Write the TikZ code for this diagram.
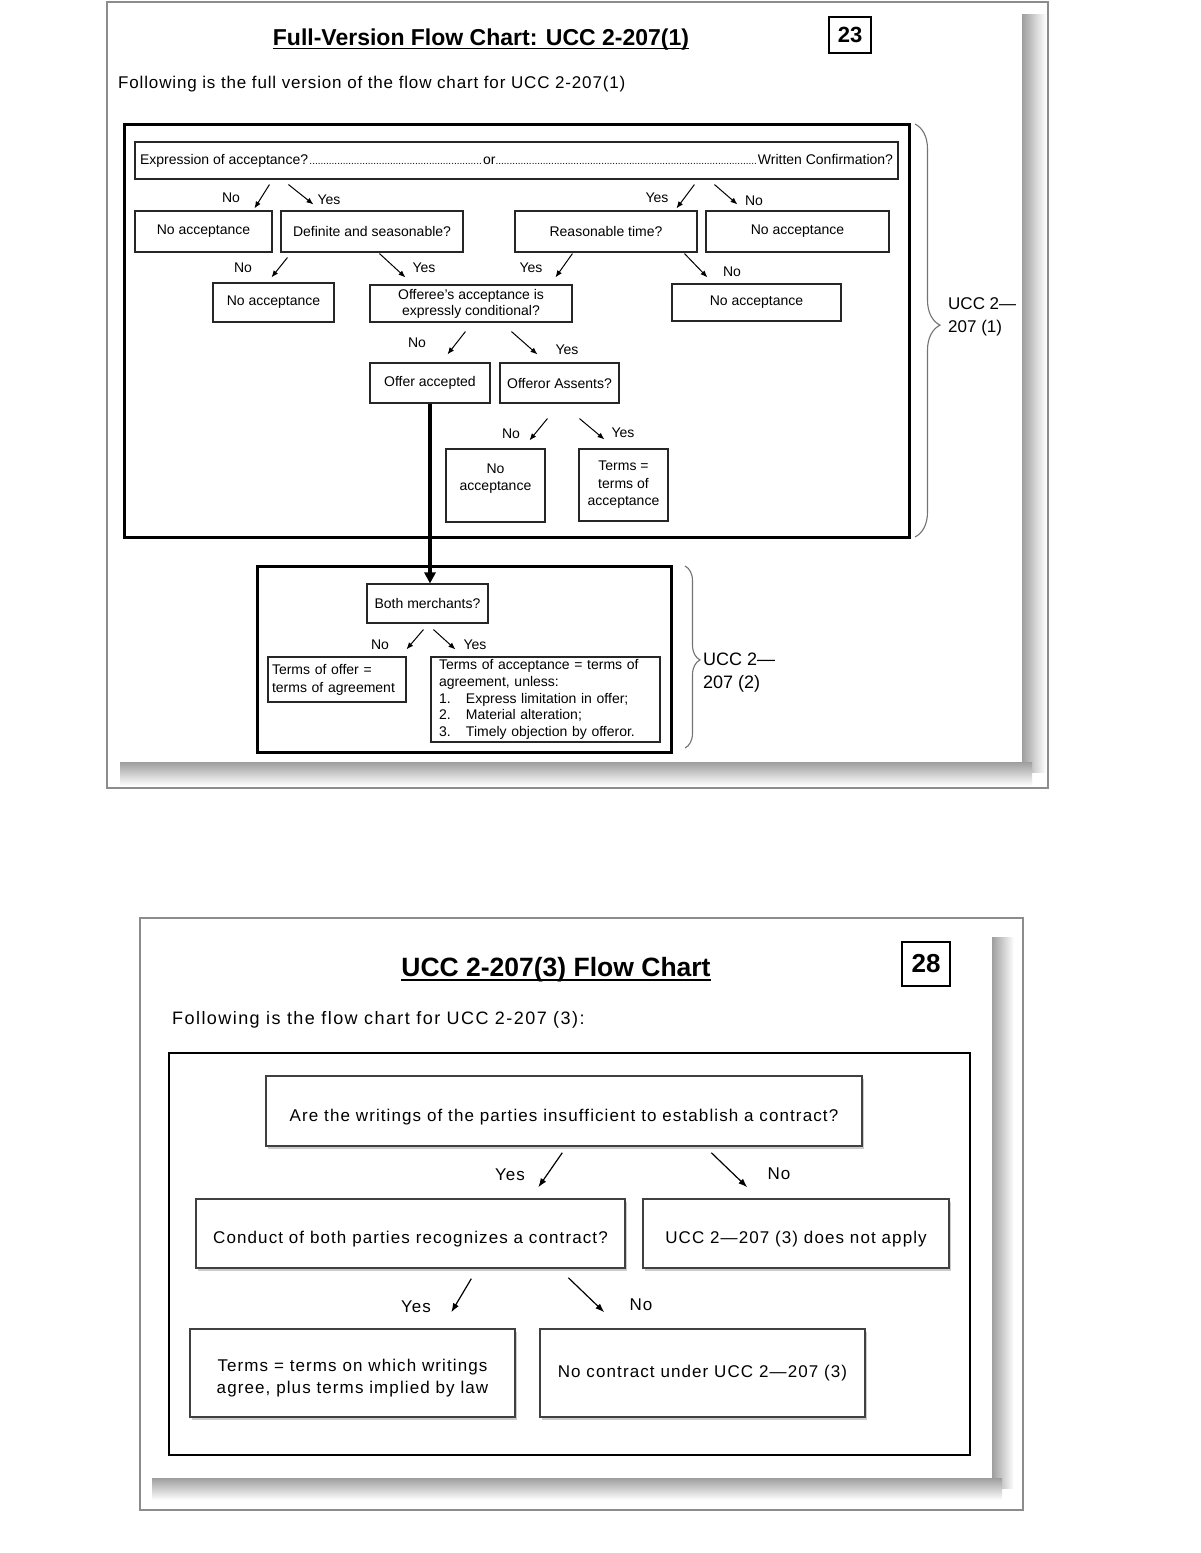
\documentclass[tikz,border=0pt]{standalone}
\usepackage{fontspec}
\setmainfont{Liberation Sans}
\newfontfamily\wideA[LetterSpace=5]{Liberation Sans}
\newfontfamily\wideB[LetterSpace=6.5]{Liberation Sans}
\newfontfamily\wideC[LetterSpace=8]{Liberation Sans}
\usetikzlibrary{arrows.meta,decorations.pathreplacing,shadows}
\newcommand\fsz[2]{\fontsize{#1}{#2}\selectfont}
\begin{document}
\begin{tikzpicture}[x=1pt,y=-1pt,
  box/.style={draw=black!85, line width=1.1pt, inner sep=2pt, align=center, font=\fsz{14}{17}},
  bigframe/.style={draw=black, line width=3pt, inner sep=0pt},
  arr/.style={line width=1pt, -{Latex[length=7pt,width=5.5pt]}},
  lbl/.style={inner sep=0pt, font=\fsz{14}{17}},
  box2/.style={draw=black!75, line width=1.4pt, inner sep=2pt, align=center, font=\wideB\fsz{17}{22}, fill=white,
    drop shadow={shadow xshift=2pt, shadow yshift=-2.5pt, fill=black, opacity=0.2}},
  one/.style={text height=20pt, text depth=0pt},
  arr2/.style={line width=1.2pt, -{Latex[length=9pt,width=6.5pt]}},
  lbl2/.style={inner sep=0pt, font=\wideB\fsz{17}{22}},
  bracestyle/.style={draw=black!55, line width=1.1pt, decorate},
]
\useasboundingbox (0,0) rectangle (1200,1553);
\fill[white] (0,0) rectangle (1200,1553);

% ---------- slide 1 page ----------
\shade[left color=black!38, right color=white] (1022,14) rectangle (1046,772);
\shade[top color=black!38, bottom color=white] (120,762) rectangle (1032,786);
\fill[white] (108,3) rectangle (1022,762);
\draw[black!45, line width=1.3pt] (107,2) rectangle (1048,788);

\node[anchor=base, inner sep=0pt, font=\bfseries\fsz{23}{28}] (t1) at (481,45) {Full-Version Flow Chart: UCC 2-207(1)};
\draw[line width=1.8pt] ([yshift=-3.5pt]t1.base west) -- ([yshift=-3.5pt]t1.base east);
\node[draw=black, line width=1.2pt, minimum width=42pt, minimum height=36pt, inner sep=0pt, font=\bfseries\fsz{22}{26}] (n23) at (850,35) {23};
\node[anchor=west, inner sep=0pt, font=\wideA\fsz{17}{20}] (s1) at (118,84) {Following is the full version of the flow chart for UCC 2-207(1)};

\node[bigframe, minimum width=785pt, minimum height=413pt] (fr1) at (516.5,330.5) {};

\node[box, minimum width=763pt, minimum height=37pt] (exp) at (516.5,160.5)
  {\makebox[753pt][l]{\makebox[343pt][l]{Expression of acceptance?\leaders\hbox{\fsz{10}{12}.}\hfill}or\leaders\hbox{\fsz{10}{12}.}\hfill Written Confirmation?}};
\node[box, minimum width=137pt, minimum height=41pt] (na1) at (203.5,231.5) {No acceptance};
\node[box, minimum width=182pt, minimum height=41pt] (def) at (372,231.5) {Definite and seasonable?};
\node[box, minimum width=182pt, minimum height=41pt] (rt) at (606,231.5) {Reasonable time?};
\node[box, minimum width=183pt, minimum height=41pt] (na2) at (797.5,231.5) {No acceptance};
\node[box, minimum width=121pt, minimum height=39pt] (na3) at (273.5,302.5) {No acceptance};
\node[box, minimum width=202pt, minimum height=37pt, font=\fsz{14}{16}] (off) at (471,303.5) {Offeree's acceptance is\\expressly conditional?};
\node[box, minimum width=169pt, minimum height=37pt] (na4) at (756.5,302.5) {No acceptance};
\node[box, minimum width=120pt, minimum height=40pt] (oa) at (430,383) {Offer accepted};
\node[box, minimum width=119pt, minimum height=40pt] (oas) at (559.5,383) {Offeror Assents?};
\node[box, minimum width=99pt, minimum height=73pt] (na5) at (495.5,485.5) {No\\acceptance\\\mbox{}};
\node[box, minimum width=89pt, minimum height=72pt, font=\fsz{14}{17.5}] (tt) at (623.5,485) {Terms =\\terms of\\acceptance};

\draw[arr] ([shift={(135,5)}]exp.south west) -- ([shift={(120,-2)}]na1.north west);
\node[lbl] (l1) at (231,198) {No};
\draw[arr] ([shift={(154,5)}]exp.south west) -- ([shift={(33,-6)}]def.north west);
\node[lbl] (l2) at (329,200) {Yes};
\draw[arr] ([shift={(560,5)}]exp.south west) -- ([shift={(162,-2)}]rt.north west);
\node[lbl] (l3) at (657,198) {Yes};
\draw[arr] ([shift={(580,5)}]exp.south west) -- ([shift={(32,-6)}]na2.north west);
\node[lbl] (l4) at (754,201) {No};
\draw[arr] ([shift={(7,5)}]def.south west) -- ([shift={(59,-5)}]na3.north west);
\node[lbl] (l5) at (243,268) {No};
\draw[arr] ([shift={(99,1)}]def.south west) -- ([shift={(36,-7)}]off.north west);
\node[lbl] (l6) at (424,268) {Yes};
\draw[arr] ([shift={(58,1)}]rt.south west) -- ([shift={(186,-7)}]off.north west);
\node[lbl] (l7) at (531,268) {Yes};
\draw[arr] ([shift={(170,1)}]rt.south west) -- ([shift={(36,-6)}]na4.north west);
\node[lbl] (l8) at (732,272) {No};
\draw[arr] ([shift={(96,9)}]off.south west) -- ([shift={(78,-8)}]oa.north west);
\node[lbl] (l9) at (417,343) {No};
\draw[arr] ([shift={(142,9)}]off.south west) -- ([shift={(38,-8)}]oas.north west);
\node[lbl] (l10) at (567,350) {Yes};
\draw[arr] ([shift={(48,15)}]oas.south west) -- ([shift={(84,-8)}]na5.north west);
\node[lbl] (l11) at (511,434) {No};
\draw[arr] ([shift={(80,15)}]oas.south west) -- ([shift={(26,-9)}]tt.north west);
\node[lbl] (l12) at (623,433) {Yes};

\draw[bracestyle, decoration={brace, amplitude=25pt, aspect=0.487}] (915,124) -- (915,537);
\node[anchor=west, align=left, inner sep=0pt, font=\fsz{17}{23}] (lab1) at (948,316.5) {UCC 2—\\207 (1)};

% bottom part
\node[bigframe, minimum width=414pt, minimum height=186pt] (fr2) at (464,659) {};
\node[box, minimum width=121pt, minimum height=39pt] (bm) at (427.5,603.5) {Both merchants?};
\node[box, align=left, text width=130pt, inner xsep=4pt, minimum height=45pt, font=\fsz{14}{18}] (tof) at (337,679.5) {Terms of offer =\\terms of agreement};
\node[box, align=left, text width=213pt, inner xsep=8pt, minimum height=85pt, font=\fsz{14}{16.7}] (toa) at (545.5,699.5)
  {Terms of acceptance = terms of\\agreement, unless:\\\makebox[27pt][l]{1.}Express limitation in offer;\\\makebox[27pt][l]{2.}Material alteration;\\\makebox[27pt][l]{3.}Timely objection by offeror.};
\draw[line width=4pt, -{Triangle[length=11pt,width=11pt]}] (oa.south) -- (oa.south |- bm.north);
\draw[arr] ([shift={(57,6)}]bm.south west) -- ([shift={(139,-7)}]tof.north west);
\node[lbl] (l13) at (380,645) {No};
\draw[arr] ([shift={(67,6)}]bm.south west) -- ([shift={(25,-7)}]toa.north west);
\node[lbl] (l14) at (475,645) {Yes};

\draw[bracestyle, decoration={brace, amplitude=15pt, aspect=0.516}] (685,566) -- (685,748);
\node[anchor=west, align=left, inner sep=0pt, font=\fsz{18}{23}] (lab2) at (703,672.5) {UCC 2—\\207 (2)};

% ---------- slide 2 page ----------
\shade[left color=black!38, right color=white] (992,937) rectangle (1014,1488);
\shade[top color=black!38, bottom color=white] (152,1478) rectangle (1002,1500);
\fill[white] (141,919) rectangle (992,1478);
\draw[black!45, line width=1.3pt] (140,918) rectangle (1023,1510);

\node[anchor=base, inner sep=0pt, font=\bfseries\fsz{26.5}{30}] (t2) at (556,976) {UCC 2-207(3) Flow Chart};
\draw[line width=2pt] ([yshift=-4pt]t2.base west) -- ([yshift=-4pt]t2.base east);
\node[draw=black, line width=1.5pt, minimum width=48pt, minimum height=44pt, inner sep=0pt, font=\bfseries\fsz{26}{30}] (n28) at (926,964) {28};
\node[anchor=west, inner sep=0pt, font=\wideC\fsz{18}{22}] (s2) at (172,1020) {Following is the flow chart for UCC 2-207 (3):};

\node[draw=black, line width=2pt, inner sep=0pt, minimum width=801pt, minimum height=402pt] (fr3) at (569.5,1254) {};

\node[box2, one, minimum width=596pt, minimum height=70pt] (q) at (564,1111) {Are the writings of the parties insufficient to establish a contract?};
\node[box2, one, minimum width=429pt, minimum height=69pt] (c) at (410.5,1233.5) {Conduct of both parties recognizes a contract?};
\node[box2, one, minimum width=306pt, minimum height=69pt] (u) at (796,1233.5) {UCC 2—207 (3) does not apply};
\node[box2, minimum width=325pt, minimum height=88pt] (t) at (352.5,1373) {\mbox{}\\Terms = terms on which writings\\agree, plus terms implied by law};
\node[box2, minimum width=325pt, minimum height=88pt] (n) at (702.5,1373) {No contract under UCC 2—207 (3)};

\draw[arr2] ([shift={(297,6)}]q.south west) -- ([shift={(343,-11)}]c.north west);
\node[lbl2] (m1) at (510,1175) {Yes};
\draw[arr2] ([shift={(446,6)}]q.south west) -- ([shift={(105,-11)}]u.north west);
\node[lbl2] (m2) at (779,1174) {No};
\draw[arr2] ([shift={(276,10)}]c.south west) -- ([shift={(262,-16)}]t.north west);
\node[lbl2] (m3) at (416,1307) {Yes};
\draw[arr2] ([shift={(373,9)}]c.south west) -- ([shift={(65,-16)}]n.north west);
\node[lbl2] (m4) at (641,1305) {No};
\end{tikzpicture}
\end{document}
